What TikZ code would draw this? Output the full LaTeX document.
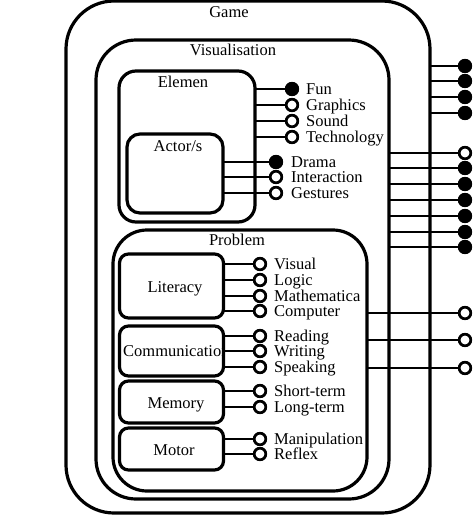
\documentclass[tikz,border=0pt]{standalone}
\usepackage{fontspec}
\setmainfont{Liberation Serif}
\begin{document}
\begin{tikzpicture}[x=1pt,y=-1pt,
  box/.style={draw,line width=3.2pt,inner sep=0pt,outer sep=0pt},
  lbl/.style={inner sep=0pt,font=\fontsize{16.5}{18}\selectfont,text height=10pt,text depth=2.5pt},
  item/.style={lbl,anchor=west},
  ocirc/.style={circle,draw,line width=2.6pt,fill=white,minimum size=11.5pt,inner sep=0pt},
  fcirc/.style={circle,draw,line width=2.6pt,fill=black,minimum size=11.5pt,inner sep=0pt},
  conn/.style={line width=2.1pt}]
\useasboundingbox (0,0) rectangle (474,515);
% boxes
\node[box,rounded corners=48pt,minimum width=364pt,minimum height=512pt] (game) at (248,257) {};
\node[box,rounded corners=40pt,minimum width=293pt,minimum height=459pt] (vis) at (242.5,269.5) {};
\node[box,rounded corners=17pt,minimum width=136pt,minimum height=151pt] (elem) at (187,146.5) {};
\node[box,rounded corners=13pt,minimum width=96pt,minimum height=79pt] (actor) at (175,173.5) {};
\node[box,rounded corners=34pt,minimum width=254pt,minimum height=261pt] (prob) at (240,360.5) {};
\node[box,rounded corners=9pt,minimum width=104pt,minimum height=64pt] (lit) at (171.5,286) {};
\node[box,rounded corners=9pt,minimum width=104pt,minimum height=50pt] (comm) at (171.5,351) {};
\node[box,rounded corners=9pt,minimum width=104pt,minimum height=42pt] (mem) at (171.5,402) {};
\node[box,rounded corners=9pt,minimum width=104pt,minimum height=42pt] (mot) at (171.5,449) {};
% titles
\node[lbl] (tgame) at (229,14) {Game};
\node[lbl] (tvis) at (233,52) {Visualisation};
\node[lbl] (telem) at (183,84) {Elemen};
\node[lbl] (tactor) at (178,148) {Actor/s};
\node[lbl] (tprob) at (237,242) {Problem};
\node[lbl] (tlit) at (175,289) {Literacy};
\begin{scope}
\clip (comm.south west) rectangle (comm.north east);
\node[lbl,anchor=west] (tcomm) at (123,353) {Communication};
\end{scope}
\node[lbl] (tmem) at (176,405) {Memory};
\node[lbl] (tmot) at (174,452) {Motor};
% Elemen items
\foreach \n/\y/\s/\t in {fun/89/fcirc/Fun,gra/105/ocirc/Graphics,sou/121/ocirc/Sound,tec/137/ocirc/Technology}{
  \node[\s] (\n) at (292,\y) {};
  \node[item] (\n l) at (306,\y+2) {\t};
  \draw[conn] (elem.east |- \n) -- (\n);
}
% Actor items
\foreach \n/\y/\s/\t in {dra/162/fcirc/Drama,int/177/ocirc/Interaction,ges/193/ocirc/Gestures}{
  \node[\s] (\n) at (276,\y) {};
  \node[item] (\n l) at (291,\y+2) {\t};
  \draw[conn] (actor.east |- \n) -- (\n);
}
% Problem items
\foreach \n/\y/\b/\t in {visu/264/lit/Visual,logi/280/lit/Logic,math/296/lit/Mathematica,comp/311/lit/Computer,
  read/336/comm/Reading,writ/351/comm/Writing,spea/367/comm/Speaking,
  shor/391/mem/Short-term,long/407/mem/Long-term,mani/439/mot/Manipulation,refl/454/mot/Reflex}{
  \node[ocirc] (\n) at (260,\y) {};
  \node[item] (\n l) at (274,\y+2) {\t};
  \draw[conn] (\b.east |- \n) -- (\n);
}
% right side: from Game
\foreach \n/\y in {g1/66,g2/81,g3/97,g4/113}{
  \node[fcirc] (\n) at (465,\y) {};
  \draw[conn] (game.east |- \n) -- (\n);
}
% right side: from Visualisation
\foreach \n/\y/\s in {v1/153/ocirc,v2/168/fcirc,v3/184/fcirc,v4/200/fcirc,v5/216/fcirc,v6/232/fcirc,v7/247/fcirc}{
  \node[\s] (\n) at (465,\y) {};
  \draw[conn] (vis.east |- \n) -- (\n);
}
% right side: from Problem
\foreach \n/\y in {p1/313,p2/340,p3/368}{
  \node[ocirc] (\n) at (465,\y) {};
  \draw[conn] (prob.east |- \n) -- (\n);
}
% redraw circles on top of lines
\foreach \n/\s in {v1/ocirc,v2/fcirc,v3/fcirc,v4/fcirc,v5/fcirc,v6/fcirc,v7/fcirc,p1/ocirc,p2/ocirc,p3/ocirc,g1/fcirc,g2/fcirc,g3/fcirc,g4/fcirc,fun/fcirc,gra/ocirc,sou/ocirc,tec/ocirc,dra/fcirc,int/ocirc,ges/ocirc}{
  \node[\s] at (\n) {};
}
\foreach \n in {visu,logi,math,comp,read,writ,spea,shor,long,mani,refl}{
  \node[ocirc] at (\n) {};
}
\end{tikzpicture}
\end{document}
